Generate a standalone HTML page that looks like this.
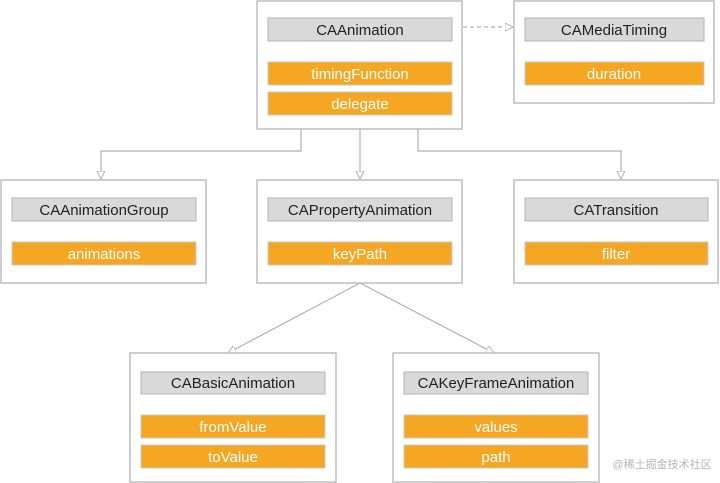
<!DOCTYPE html>
<html><head><meta charset="utf-8"><style>
html,body{margin:0;padding:0;background:#fff;}
svg{display:block;}
text{font-family:"Liberation Sans","Noto Sans CJK SC",sans-serif;font-size:15px;text-anchor:middle;}
.b{fill:#fff;stroke:#bdbdbd;stroke-width:1.5;}
.h{fill:#d9d9d9;stroke:#b3b3b3;stroke-width:1;}
.o{fill:#f5a623;stroke:#c9c9c9;stroke-width:1;}
.ht{fill:#222;}
.ot{fill:#fff;}
.l{stroke:#b0b0b0;stroke-width:1.2;fill:none;}
</style></head><body>
<svg width="720" height="483" viewBox="0 0 720 483" xmlns="http://www.w3.org/2000/svg">
<defs>
<marker id="a" markerWidth="10" markerHeight="10" refX="8" refY="4" orient="auto" markerUnits="userSpaceOnUse">
<path d="M0,0 L8,4 L0,8 Z" fill="#fff" stroke="#b0b0b0" stroke-width="1"/>
</marker>
</defs>
<path class="l" d="M301,129 V151 H101 V179" marker-end="url(#a)"/>
<path class="l" d="M360,129 V179" marker-end="url(#a)"/>
<path class="l" d="M418,129 V151 H621 V179" marker-end="url(#a)"/>
<path class="l" d="M463,27 H513" stroke-dasharray="4,3" marker-end="url(#a)"/>
<path class="l" d="M360,283 L228,353" marker-end="url(#a)"/>
<path class="l" d="M360,283 L494,353" marker-end="url(#a)"/>

<rect class="b" x="257" y="1" width="205" height="128"/>
<rect class="h" x="268" y="18" width="184" height="23"/><text class="ht" x="360" y="35">CAAnimation</text>
<rect class="o" x="268" y="62" width="184" height="23"/><text class="ot" x="360" y="79">timingFunction</text>
<rect class="o" x="268" y="92" width="184" height="23"/><text class="ot" x="360" y="109">delegate</text>

<rect class="b" x="514" y="1" width="200" height="102"/>
<rect class="h" x="525" y="18" width="179" height="23"/><text class="ht" x="614" y="35">CAMediaTiming</text>
<rect class="o" x="525" y="62" width="179" height="23"/><text class="ot" x="614" y="79">duration</text>

<rect class="b" x="1" y="180" width="205" height="103"/>
<rect class="h" x="12" y="198" width="184" height="23"/><text class="ht" x="104" y="215">CAAnimationGroup</text>
<rect class="o" x="12" y="242" width="184" height="23"/><text class="ot" x="104" y="259">animations</text>

<rect class="b" x="257" y="180" width="205" height="103"/>
<rect class="h" x="268" y="198" width="184" height="23"/><text class="ht" x="360" y="215">CAPropertyAnimation</text>
<rect class="o" x="268" y="242" width="184" height="23"/><text class="ot" x="360" y="259">keyPath</text>

<rect class="b" x="514" y="180" width="204" height="103"/>
<rect class="h" x="525" y="198" width="183" height="23"/><text class="ht" x="616" y="215">CATransition</text>
<rect class="o" x="525" y="242" width="183" height="23"/><text class="ot" x="616" y="259">filter</text>

<rect class="b" x="130" y="353" width="206" height="129"/>
<rect class="h" x="141" y="372" width="184" height="22"/><text class="ht" x="233" y="388">CABasicAnimation</text>
<rect class="o" x="141" y="415" width="184" height="23"/><text class="ot" x="233" y="432">fromValue</text>
<rect class="o" x="141" y="445" width="184" height="23"/><text class="ot" x="233" y="462">toValue</text>

<rect class="b" x="393" y="353" width="206" height="129"/>
<rect class="h" x="404" y="372" width="184" height="22"/><text class="ht" x="496" y="388">CAKeyFrameAnimation</text>
<rect class="o" x="404" y="415" width="184" height="23"/><text class="ot" x="496" y="432">values</text>
<rect class="o" x="404" y="445" width="184" height="23"/><text class="ot" x="496" y="462">path</text>

<text x="662" y="468" style="font-size:11px;fill:#b5b5b5;">@稀土掘金技术社区</text>
</svg>
</body></html>
